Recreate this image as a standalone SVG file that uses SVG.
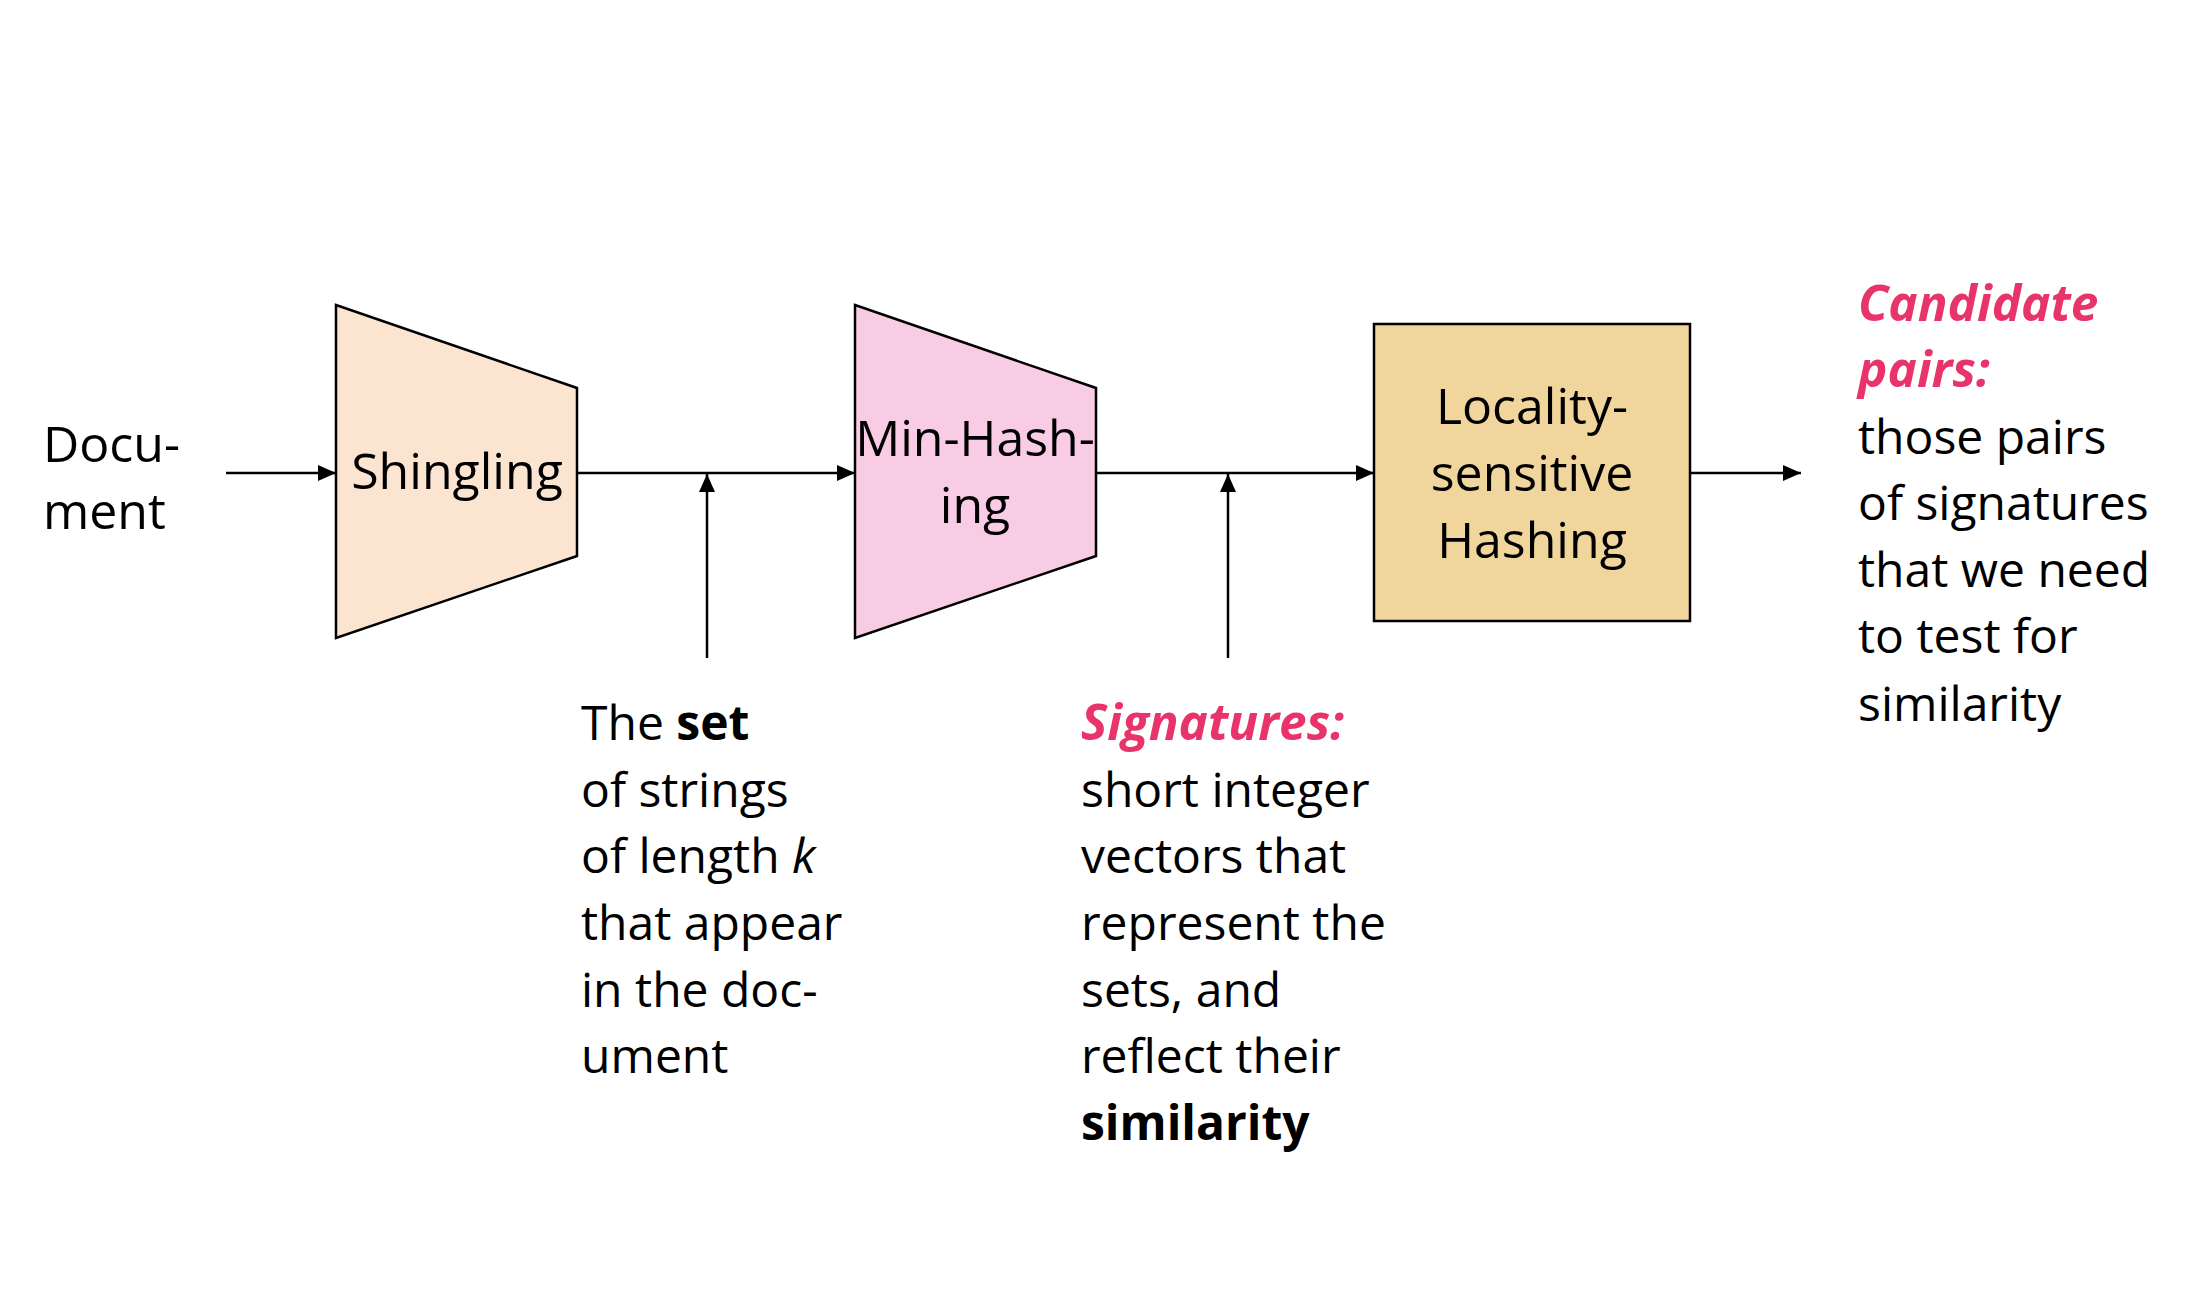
<svg xmlns="http://www.w3.org/2000/svg" width="2200" height="1302" viewBox="0 0 2200 1302">
  <style>
    .t { font-family: "Open Sans", "Noto Sans", "DejaVu Sans", sans-serif; fill: #000; }
    .lbl { font-size: 50px; }
    .desc { font-size: 48px; }
    .em { fill: #E8336B; font-weight: bold; font-style: italic; font-size: 49.5px; }
    .b { font-weight: bold; }
    .shape { stroke: #000; stroke-width: 2.5; }
    .conn { stroke: #000; stroke-width: 2.5; fill: none; marker-end: url(#ah); }
  </style>
  <defs>
    <marker id="ah" viewBox="0 0 18 16" refX="18" refY="8" markerWidth="18" markerHeight="16" markerUnits="userSpaceOnUse" orient="auto">
      <path d="M0,0 L18,8 L0,16 Z" fill="#000"/>
    </marker>
  </defs>
  <rect width="2200" height="1302" fill="#fff"/>

  <g id="connectors">
    <line class="conn" x1="226" y1="473" x2="336" y2="473"/>
    <line class="conn" x1="577" y1="473" x2="855" y2="473"/>
    <line class="conn" x1="707" y1="658" x2="707" y2="474"/>
    <line class="conn" x1="1096" y1="473" x2="1374" y2="473"/>
    <line class="conn" x1="1228" y1="658" x2="1228" y2="474"/>
    <line class="conn" x1="1690" y1="473" x2="1801" y2="473"/>
  </g>

  <g id="document">
    <text class="t lbl" x="43" y="462">Docu-</text>
    <text class="t lbl" x="43" y="529">ment</text>
  </g>

  <g id="shingling">
    <polygon class="shape" fill="#FBE5D1" points="336,305 577,388 577,556 336,638"/>
    <text class="t lbl" x="457" y="489" text-anchor="middle">Shingling</text>
  </g>

  <g id="minhashing">
    <polygon class="shape" fill="#F7CCE4" points="855,305 1096,388 1096,556 855,638"/>
    <text class="t lbl" x="975" y="456" text-anchor="middle">Min-Hash-</text>
    <text class="t lbl" x="975" y="523" text-anchor="middle">ing</text>
  </g>

  <g id="lsh">
    <rect class="shape" fill="#F0D69C" x="1374" y="324" width="316" height="297"/>
    <text class="t lbl" x="1532" y="424" text-anchor="middle">Locality-</text>
    <text class="t lbl" x="1532" y="491" text-anchor="middle">sensitive</text>
    <text class="t lbl" x="1532" y="558" text-anchor="middle">Hashing</text>
  </g>

  <g id="set-label">
    <text class="t desc" x="581" y="740">The <tspan class="b">set</tspan></text>
    <text class="t desc" x="581" y="807">of strings</text>
    <text class="t desc" x="581" y="873">of length <tspan font-style="italic">k</tspan></text>
    <text class="t desc" x="581" y="940">that appear</text>
    <text class="t desc" x="581" y="1007">in the doc-</text>
    <text class="t desc" x="581" y="1073">ument</text>
  </g>

  <g id="signatures-label">
    <text class="t desc em" x="1081" y="740">Signatures:</text>
    <text class="t desc" x="1081" y="807">short integer</text>
    <text class="t desc" x="1081" y="873">vectors that</text>
    <text class="t desc" x="1081" y="940">represent the</text>
    <text class="t desc" x="1081" y="1007">sets, and</text>
    <text class="t desc" x="1081" y="1073">reflect their</text>
    <text class="t desc b" x="1081" y="1140">similarity</text>
  </g>

  <g id="candidate-label">
    <text class="t desc em" x="1858" y="321">Candidate</text>
    <text class="t desc em" x="1858" y="387">pairs:</text>
    <text class="t desc" x="1858" y="454">those pairs</text>
    <text class="t desc" x="1858" y="520">of signatures</text>
    <text class="t desc" x="1858" y="587">that we need</text>
    <text class="t desc" x="1858" y="653">to test for</text>
    <text class="t desc" x="1858" y="721">similarity</text>
  </g>
</svg>
